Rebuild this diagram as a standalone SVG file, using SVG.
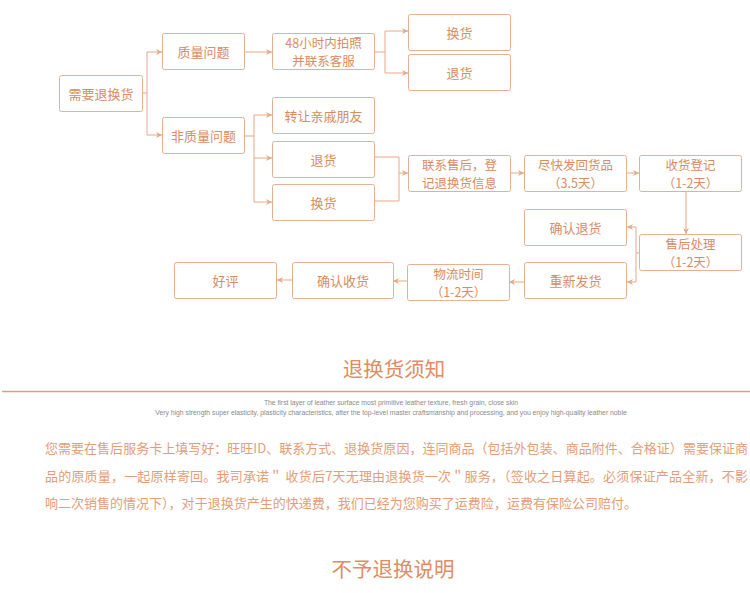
<svg xmlns="http://www.w3.org/2000/svg" width="750" height="593" viewBox="0 0 750 593">
<defs>
<style>
.b{fill:#fff;stroke:#e6b092;stroke-width:1}
.t{font-family:"Noto Sans CJK SC","Noto Sans",sans-serif;font-size:13px;fill:#d98b63;text-anchor:middle;dominant-baseline:central}
.s{font-size:12.5px}
.c{fill:none;stroke:#e4a988;stroke-width:1}
.h{font-family:"Noto Sans CJK SC","Noto Sans",sans-serif;font-size:20.5px;fill:#e08c64;text-anchor:middle}
.p{font-family:"Noto Sans CJK SC","Noto Sans",sans-serif;font-size:13px;fill:#e59c78}
.e{font-family:"Liberation Sans",sans-serif;font-size:6.8px;fill:#8a8a8a;text-anchor:middle}
</style>
<marker id="a" markerWidth="7" markerHeight="6" refX="6" refY="3" orient="auto" markerUnits="userSpaceOnUse">
<path d="M0,0 L6,3 L0,6 L1.8,3 z" fill="#e4a988"/>
</marker>
</defs>
<rect width="750" height="593" fill="#fff"/>
<g id="connectors">
<path class="c" d="M142,93 H147 M147,52 V135" />
<path class="c" d="M147,52 H162" marker-end="url(#a)"/>
<path class="c" d="M147,135 H162" marker-end="url(#a)"/>
<path class="c" d="M244,52 H272" marker-end="url(#a)"/>
<path class="c" d="M374,52 H385 M385,31 V73"/>
<path class="c" d="M385,31 H408" marker-end="url(#a)"/>
<path class="c" d="M385,73 H408" marker-end="url(#a)"/>
<path class="c" d="M244,136 H254 M254,115 V202"/>
<path class="c" d="M254,115 H272" marker-end="url(#a)"/>
<path class="c" d="M254,158 H272" marker-end="url(#a)"/>
<path class="c" d="M254,202 H272" marker-end="url(#a)"/>
<path class="c" d="M374,157 H399 V201 H374"/>
<path class="c" d="M399,173 H408" marker-end="url(#a)"/>
<path class="c" d="M510,173 H524" marker-end="url(#a)"/>
<path class="c" d="M627,173 H639" marker-end="url(#a)"/>
<path class="c" d="M686,192 V234" marker-end="url(#a)"/>
<path class="c" d="M639,253 H636 M636,227 V282"/>
<path class="c" d="M636,227 H627" marker-end="url(#a)"/>
<path class="c" d="M636,282 H627" marker-end="url(#a)"/>
<path class="c" d="M524,282 H509" marker-end="url(#a)"/>
<path class="c" d="M407,281 H393" marker-end="url(#a)"/>
<path class="c" d="M292,280 H277" marker-end="url(#a)"/>
</g>
<g id="n1"><rect class="b" x="59.5" y="75.5" width="83" height="36" rx="2"/><text class="t" x="101" y="93.5">需要退换货</text></g>
<g id="n2"><rect class="b" x="162.5" y="33.5" width="82" height="36" rx="2"/><text class="t" x="203.5" y="51.5">质量问题</text></g>
<g id="n3"><rect class="b" x="162.5" y="117.5" width="82" height="36" rx="2"/><text class="t" x="203.5" y="135.5">非质量问题</text></g>
<g id="n4"><rect class="b" x="272.5" y="33.5" width="102" height="36" rx="2"/><text class="t s" x="323.5" y="42.5">48小时内拍照</text><text class="t s" x="323.5" y="60.5">并联系客服</text></g>
<g id="n5"><rect class="b" x="408.5" y="14.5" width="102" height="36" rx="2"/><text class="t" x="459.5" y="32.5">换货</text></g>
<g id="n6"><rect class="b" x="408.5" y="54.5" width="102" height="36" rx="2"/><text class="t" x="459.5" y="72.5">退货</text></g>
<g id="n7"><rect class="b" x="272.5" y="97.5" width="102" height="36" rx="2"/><text class="t" x="323.5" y="115.5">转让亲戚朋友</text></g>
<g id="n8"><rect class="b" x="272.5" y="141.5" width="102" height="36" rx="2"/><text class="t" x="323.5" y="159.5">退货</text></g>
<g id="n9"><rect class="b" x="272.5" y="184.5" width="102" height="36" rx="2"/><text class="t" x="323.5" y="202.5">换货</text></g>
<g id="n10"><rect class="b" x="408.5" y="155.5" width="102" height="36" rx="2"/><text class="t s" x="459.5" y="164.5">联系售后，登</text><text class="t s" x="459.5" y="182.5">记退换货信息</text></g>
<g id="n11"><rect class="b" x="524.5" y="155.5" width="102" height="36" rx="2"/><text class="t s" x="575.5" y="164.5">尽快发回货品</text><text class="t s" x="575.5" y="182.5">（3.5天）</text></g>
<g id="n12"><rect class="b" x="639.5" y="155.5" width="102" height="36" rx="2"/><text class="t s" x="690.5" y="164.5">收货登记</text><text class="t s" x="690.5" y="182.5">（1-2天）</text></g>
<g id="n13"><rect class="b" x="524.5" y="209.5" width="102" height="36" rx="2"/><text class="t" x="575.5" y="227.5">确认退货</text></g>
<g id="n14"><rect class="b" x="639.5" y="234.5" width="102" height="36" rx="2"/><text class="t s" x="690.5" y="243.5">售后处理</text><text class="t s" x="690.5" y="261.5">（1-2天）</text></g>
<g id="n15"><rect class="b" x="524.5" y="262.5" width="102" height="36" rx="2"/><text class="t" x="575.5" y="280.5">重新发货</text></g>
<g id="n16"><rect class="b" x="407.5" y="264.5" width="102" height="36" rx="2"/><text class="t s" x="458.5" y="273.5">物流时间</text><text class="t s" x="458.5" y="291.5">（1-2天）</text></g>
<g id="n17"><rect class="b" x="292.5" y="262.5" width="101" height="36" rx="2"/><text class="t" x="343" y="280.5">确认收货</text></g>
<g id="n18"><rect class="b" x="174.5" y="262.5" width="102" height="36" rx="2"/><text class="t" x="225.5" y="280.5">好评</text></g>
<text class="h" x="394" y="377">退换货须知</text>
<line x1="2" y1="391.5" x2="750" y2="391.5" stroke="#de9f7e" stroke-width="1.5"/>
<text class="e" x="391" y="405">The first layer of leather surface most primitive leather texture, fresh grain, close skin</text>
<text class="e" x="391" y="415">Very high strength super elasticity, plasticity characteristics, after the top-level master craftsmanship and processing, and you enjoy high-quality leather noble</text>
<text class="p" x="45" y="453" textLength="703" lengthAdjust="spacing">您需要在售后服务卡上填写好：旺旺ID、联系方式、退换货原因，连同商品（包括外包装、商品附件、合格证）需要保证商</text>
<text class="p" x="45" y="481" textLength="703" lengthAdjust="spacing">品的原质量，一起原样寄回。我司承诺＂ 收货后7天无理由退换货一次＂服务，（签收之日算起。必须保证产品全新，不影</text>
<text class="p" x="45" y="508" textLength="592" lengthAdjust="spacing">响二次销售的情况下），对于退换货产生的快递费，我们已经为您购买了运费险，运费有保险公司赔付。</text>
<text class="h" x="393" y="577">不予退换说明</text>
</svg>
